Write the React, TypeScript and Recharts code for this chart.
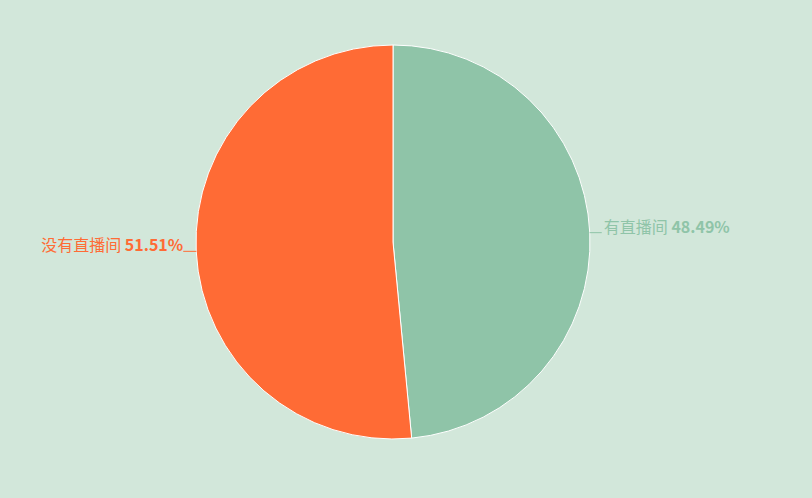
import React from "react";
import { PieChart, Pie, Cell } from "recharts";

const categories = ["有直播间", "没有直播间"];
const shares = [48.49, 51.51];
const colors = ["#8fc4a8", "#ff6b35"];

const data = categories.map((name, i) => ({ name, value: shares[i] }));

const RADIAN = Math.PI / 180;

const renderLabel = (props: any) => {
  const { cx, cy, midAngle, outerRadius, percent, index } = props;
  const cos = Math.cos(-midAngle * RADIAN);
  const sin = Math.sin(-midAngle * RADIAN);
  const sx = cx + outerRadius * cos;
  const sy = cy + outerRadius * sin;
  const right = cos >= 0;
  const ex = sx + (right ? 12 : -13);
  const tx = ex + (right ? 2 : 0);
  const color = colors[index % colors.length];
  return (
    <g>
      <path d={`M${sx},${sy}L${ex},${sy}`} stroke={color} strokeWidth={1} fill="none" />
      <text
        x={tx}
        y={sy}
        textAnchor={right ? "start" : "end"}
        fill={color}
        fontSize={16}
        fontFamily="'Noto Sans CJK SC', 'Noto Sans', sans-serif"
      >
        <tspan>{data[index].name} </tspan>
        <tspan fontWeight="bold">{(percent * 100).toFixed(2)}%</tspan>
      </text>
    </g>
  );
};

export default function App() {
  return (
    <div
      style={{
        position: "absolute",
        left: 0,
        top: 0,
        width: 812,
        height: 498,
        background: "#d2e7da",
      }}
    >
      <PieChart width={812} height={498} margin={{ top: 0, right: 0, bottom: 0, left: 0 }}>
        <Pie
          data={data}
          dataKey="value"
          nameKey="name"
          cx={393}
          cy={242}
          outerRadius={197}
          startAngle={90}
          endAngle={-270}
          stroke="#ffffff"
          strokeWidth={1}
          label={renderLabel}
          labelLine={false}
          isAnimationActive={false}
        >
          {data.map((d, i) => (
            <Cell key={d.name} fill={colors[i % colors.length]} />
          ))}
        </Pie>
      </PieChart>
    </div>
  );
}
